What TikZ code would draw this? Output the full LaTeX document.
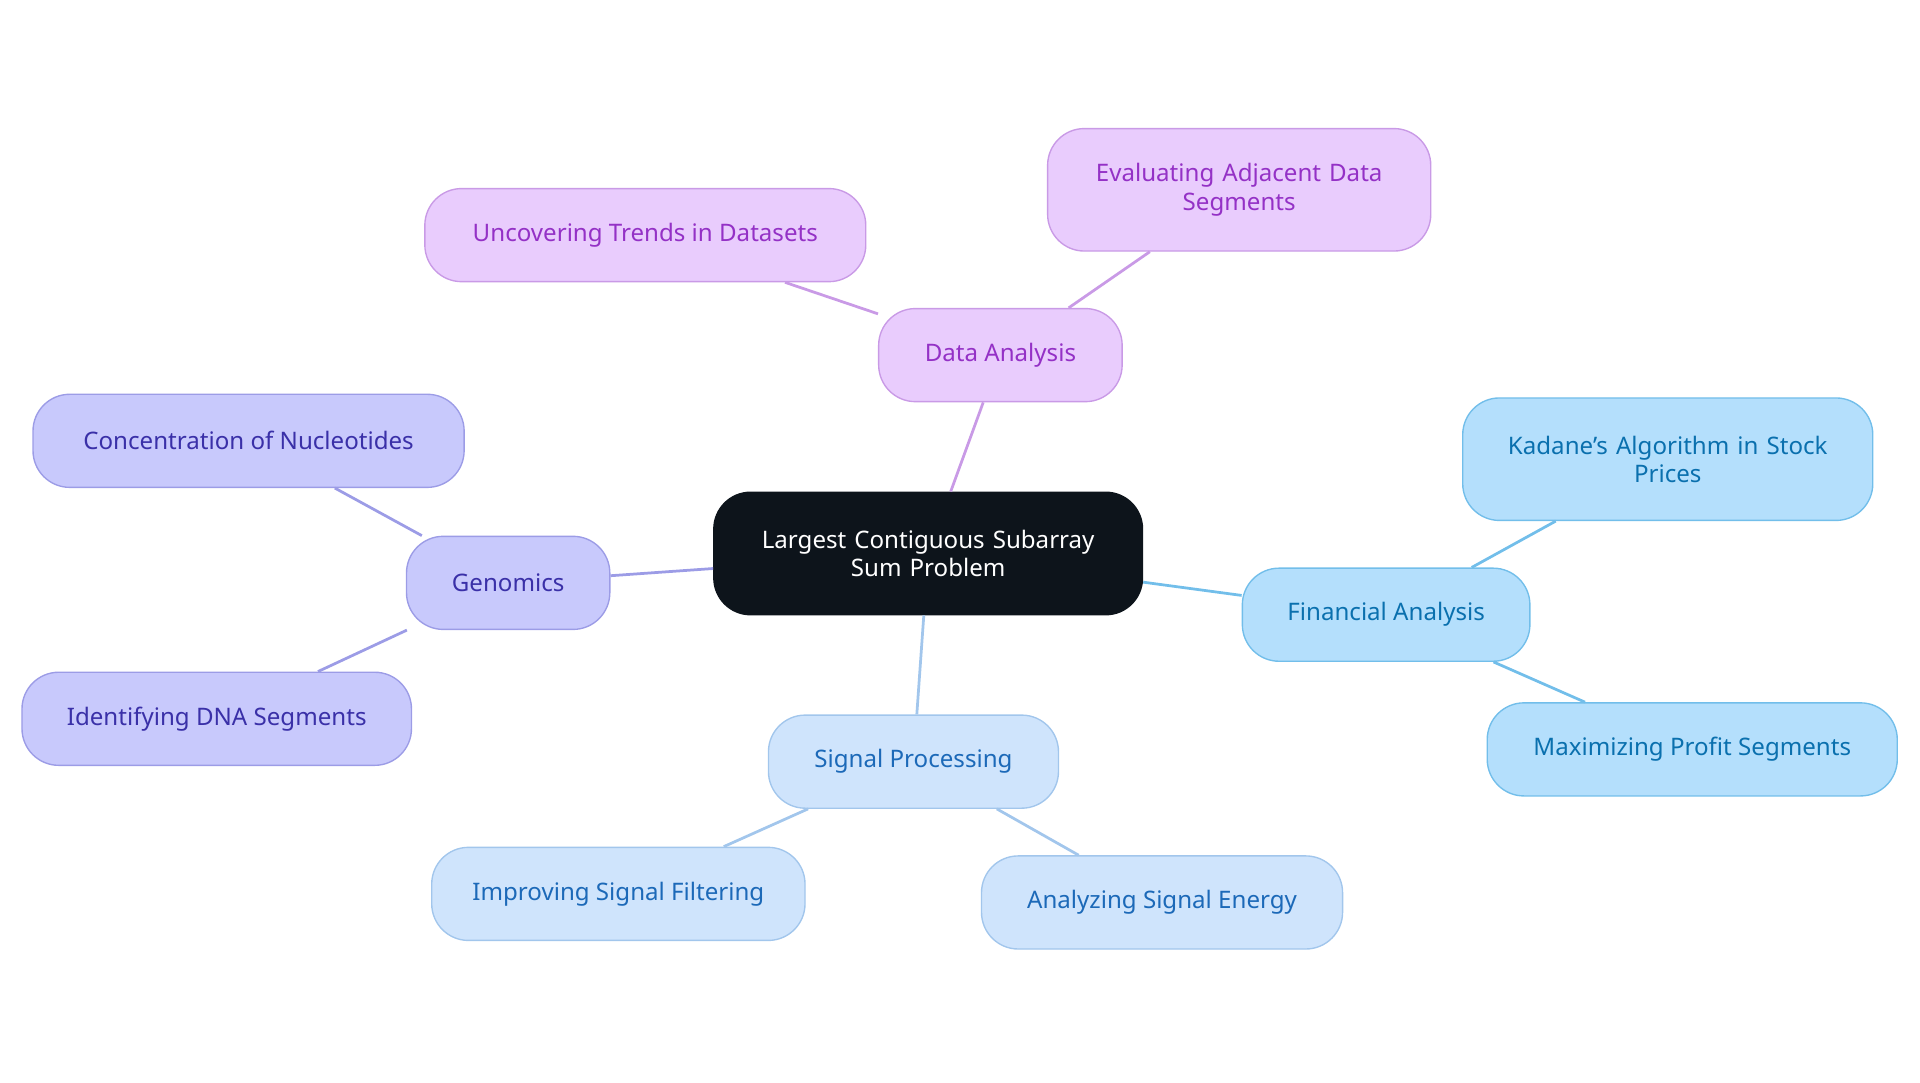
\documentclass[tikz,border=0pt]{standalone}
\usepackage{fontspec}
\setmainfont{Noto Sans}
\definecolor{rootfill}{HTML}{0D141B}
\definecolor{dafill}{HTML}{E9CCFD}\definecolor{dadraw}{HTML}{C99AE6}\definecolor{datext}{HTML}{9431C6}
\definecolor{gefill}{HTML}{C8C9FC}\definecolor{gedraw}{HTML}{9C9CE6}\definecolor{getext}{HTML}{3A30A8}
\definecolor{fifill}{HTML}{B4DFFC}\definecolor{fidraw}{HTML}{72BEEA}\definecolor{fitext}{HTML}{0A70AE}
\definecolor{spfill}{HTML}{CFE4FC}\definecolor{spdraw}{HTML}{A2C6EC}\definecolor{sptext}{HTML}{1C69B8}
\begin{document}
\begin{tikzpicture}[x=0.025cm,y=-0.025cm,
    box/.style={rounded corners=0.75cm, inner sep=0pt, align=center, line width=0.8pt,
      font=\fontsize{14}{16.5}\selectfont, minimum height=1.9cm},
    root/.style={box, fill=rootfill, draw=rootfill, text=white, minimum height=2.5cm},
    da/.style={box, fill=dafill, draw=dadraw, text=datext},
    ge/.style={box, fill=gefill, draw=gedraw, text=getext},
    fi/.style={box, fill=fifill, draw=fidraw, text=fitext},
    sp/.style={box, fill=spfill, draw=spdraw, text=sptext},
    link/.style={line width=1.6pt}]
    \useasboundingbox (0,0) rectangle (1568,884);
    \node (root) [root, minimum width=8.75cm, text width=7.5cm] at (758,452) {Largest Contiguous Subarray\\Sum Problem};
    % data analysis branch
    \node (data) [da, minimum width=4.97cm] at (817,290) {Data Analysis};
    \node (trends) [da, minimum width=9cm] at (527,192) {Uncovering Trends in Datasets};
    \node (adjacent) [da, minimum width=7.82cm, text width=6.8cm, minimum height=2.5cm] at (1012,155) {Evaluating Adjacent Data\\Segments};
    % genomics branch
    \node (genomics) [ge, minimum width=4.15cm] at (415,476) {Genomics};
    \node (nucleo) [ge, minimum width=8.8cm] at (203,360) {Concentration of Nucleotides};
    \node (dna) [ge, minimum width=7.95cm] at (177,587) {Identifying DNA Segments};
    % financial branch
    \node (finance) [fi, minimum width=5.87cm] at (1132,502) {Financial Analysis};
    \node (kadane) [fi, minimum width=8.37cm, text width=7.2cm, minimum height=2.5cm] at (1362,375) {Kadane's Algorithm in Stock\\Prices};
    \node (profit) [fi, minimum width=8.37cm] at (1382,612) {Maximizing Profit Segments};
    % signal branch
    \node (signal) [sp, minimum width=5.92cm] at (746,622) {Signal Processing};
    \node (filter) [sp, minimum width=7.62cm] at (505,730) {Improving Signal Filtering};
    \node (energy) [sp, minimum width=7.37cm] at (949,737) {Analyzing Signal Energy};

    \draw[link, dadraw] (root) -- (data);
    \draw[link, dadraw] (data) -- (trends);
    \draw[link, dadraw] (data) -- (adjacent);
    \draw[link, gedraw] (root) -- (genomics);
    \draw[link, gedraw] (genomics) -- (nucleo);
    \draw[link, gedraw] (genomics) -- (dna);
    \draw[link, fidraw] (root) -- (finance);
    \draw[link, fidraw] (finance) -- (kadane);
    \draw[link, fidraw] (finance) -- (profit);
    \draw[link, spdraw] (root) -- (signal);
    \draw[link, spdraw] (signal) -- (filter);
    \draw[link, spdraw] (signal) -- (energy);
\end{tikzpicture}
\end{document}
